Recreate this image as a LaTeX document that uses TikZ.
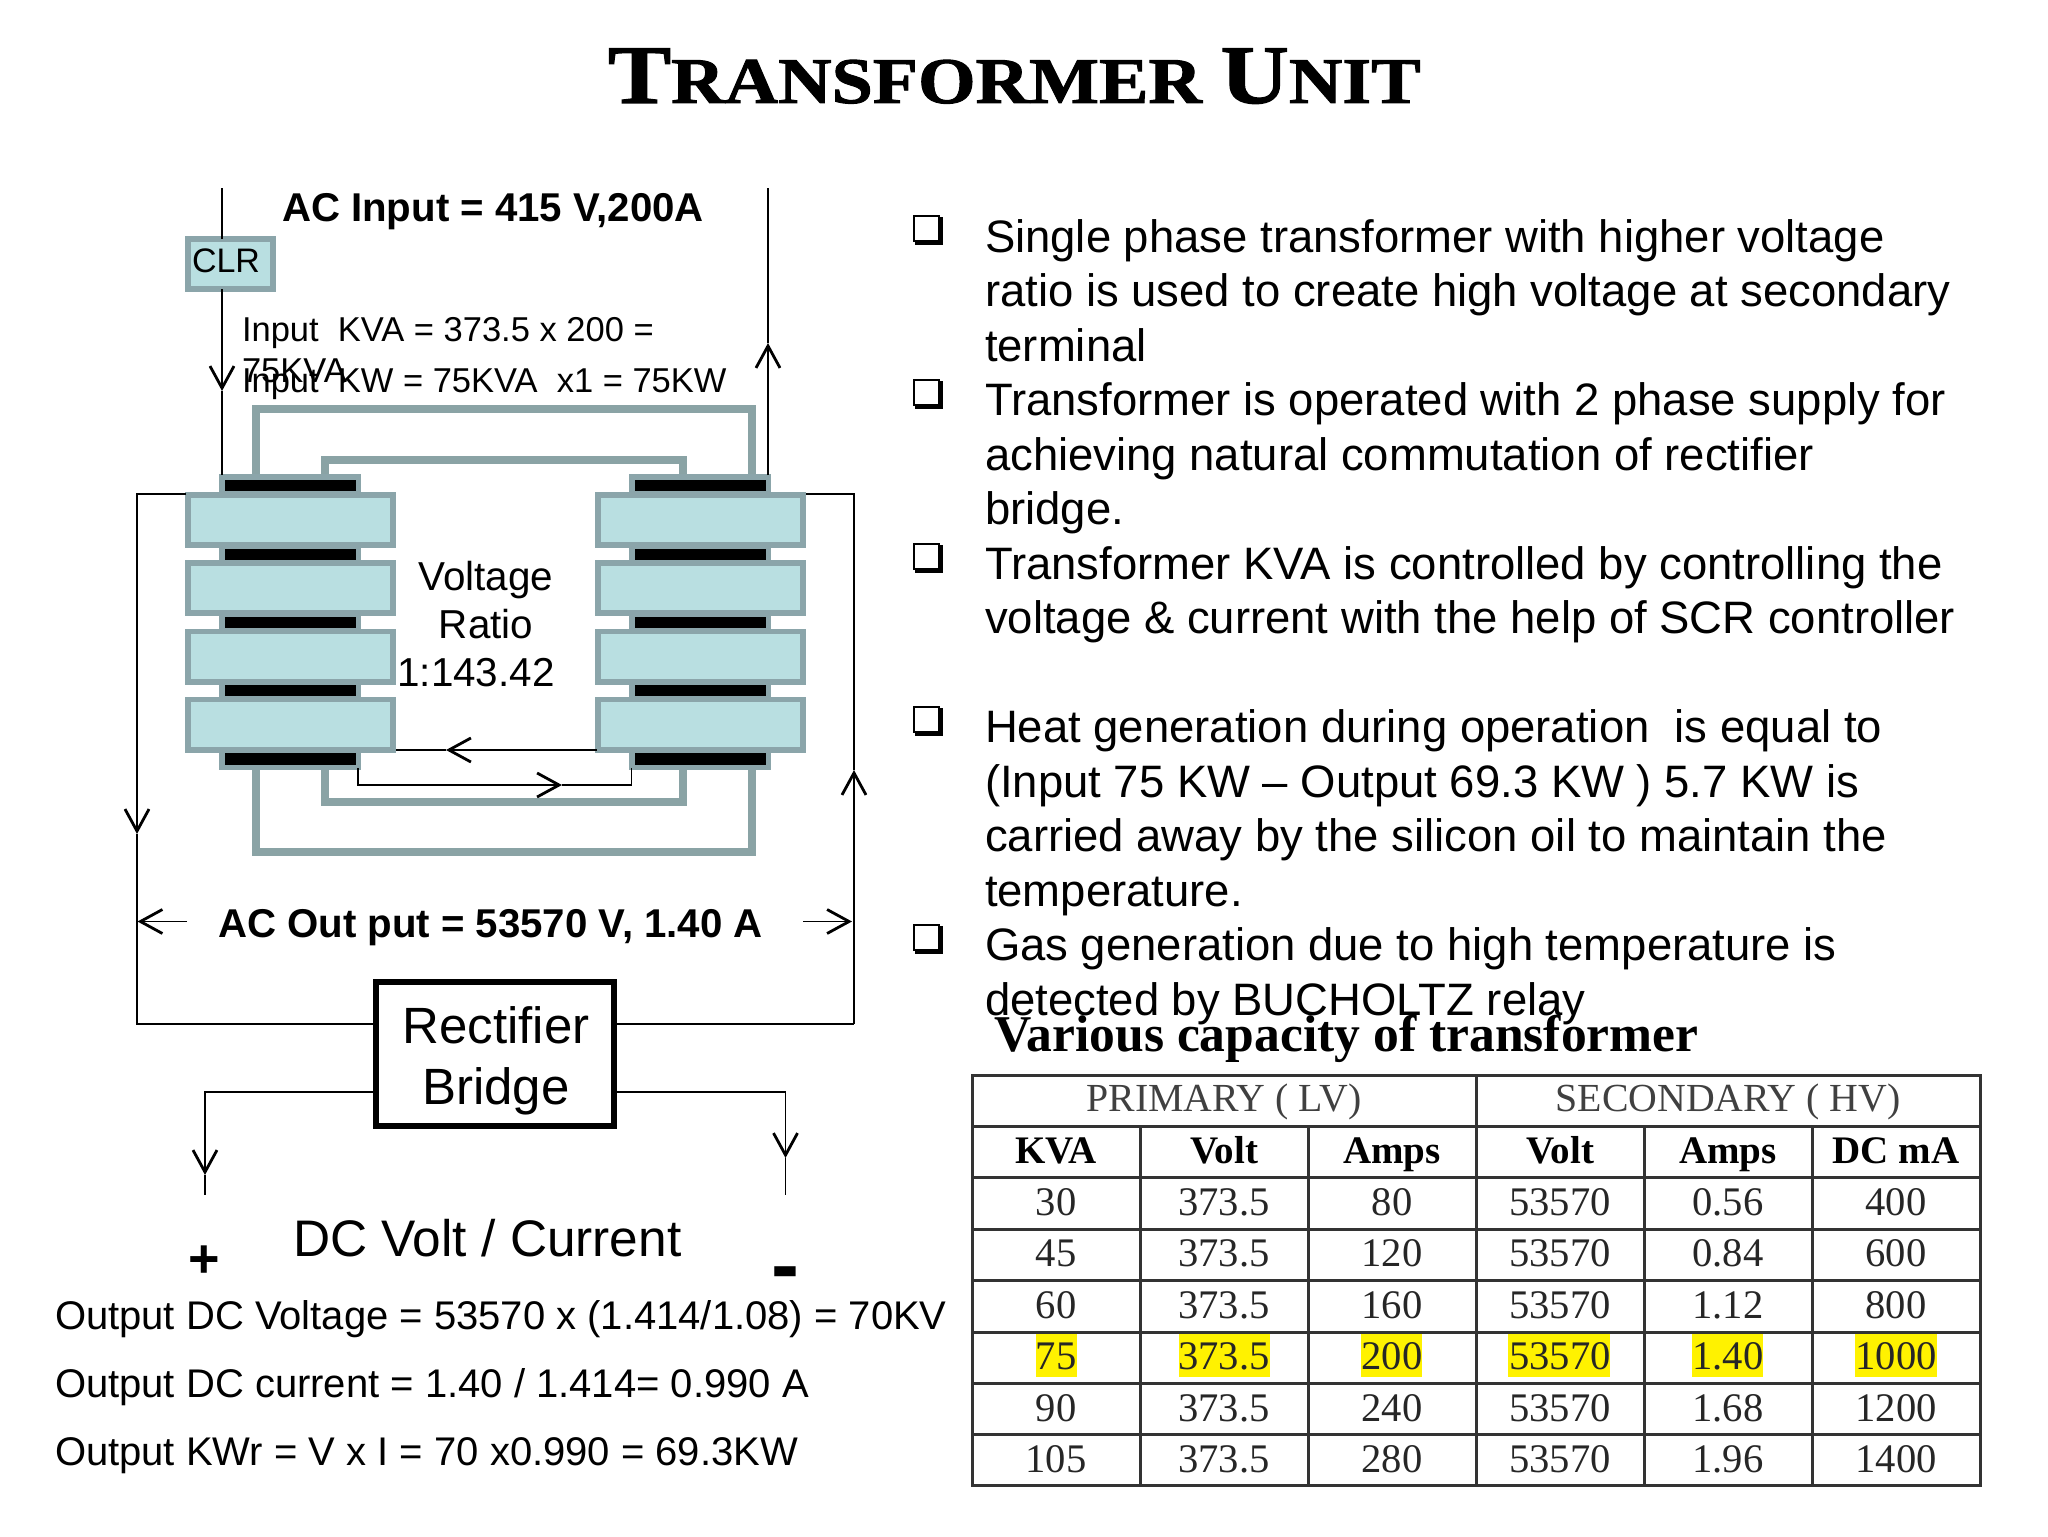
\documentclass[tikz,border=0pt]{standalone}
\usepackage{fontspec}
\usetikzlibrary{arrows.meta,calc}
\setmainfont{Liberation Sans}
\newfontfamily\timesf{Liberation Serif}
\newfontfamily\titlef[FakeStretch=1.136,FakeBold=1.5]{Liberation Serif Bold}
\definecolor{coilfill}{HTML}{B9DFE1}
\definecolor{coilline}{HTML}{8BA5AA}
\definecolor{coreline}{HTML}{8AA3A5}
\newcommand{\fs}[2]{\fontsize{#1}{#2}\selectfont}
\tikzset{
  lbl/.style={inner sep=0pt,outer sep=0pt,anchor=base west},
  lblc/.style={inner sep=0pt,outer sep=0pt,anchor=base},
  coil/.style={draw=coilline,fill=coilfill,line width=2.8pt,minimum width=102.7pt,minimum height=25.2pt,inner sep=0pt,outer sep=0pt},
  coilbar/.style={fill=black,inner sep=0pt,outer sep=0pt,minimum width=65.5pt,minimum height=5.6pt},
  coilback/.style={fill=coilline,inner sep=0pt,outer sep=0pt,minimum width=71pt,minimum height=148pt},
  core/.style={draw=coreline,line width=4pt},
  wire/.style={draw=black,line width=0.9pt},
  barb/.style={draw=black,line width=0.9pt,-{Straight Barb[length=11pt,width=12pt,line width=1.4pt]}},
  thinbarb/.style={draw=black,line width=0.6pt,-{Straight Barb[length=11pt,width=12pt,line width=1.4pt]}},
  para/.style={inner sep=0pt,outer sep=0pt,anchor=base west,align=left,font=\fs{22.73}{27.25}},
  grid/.style={draw=black!80,line width=1.5pt},
  cellt/.style={inner sep=0pt,outer sep=0pt,anchor=base,font=\timesf\fs{20.3}{20},text=black!85},
  cellb/.style={inner sep=0pt,outer sep=0pt,anchor=base,font=\timesf\bfseries\fs{19.5}{20}},
  bulletbox/.style={draw=black,line width=1.2pt,fill=white,minimum size=12.5pt,inner sep=0pt,outer sep=0pt},
  bulletshadow/.style={fill=black,minimum size=14pt,inner sep=0pt,outer sep=0pt},
}
\begin{document}
\begin{tikzpicture}[x=0.5pt,y=-0.5pt]
\useasboundingbox (0,0) rectangle (2048,1536);
% title
\node[lbl] (title) at (608,103) {\titlef\fs{41.7}{44}T\fs{32.6}{44}RANSFORMER \fs{41.7}{44}U\fs{32.6}{44}NIT};
% core
\coordinate (cot1) at (256,476); \coordinate (cot2) at (256,409); \coordinate (cot3) at (752,409); \coordinate (cot4) at (752,476);
\coordinate (cit1) at (324.5,476); \coordinate (cit2) at (324.5,460); \coordinate (cit3) at (683,460); \coordinate (cit4) at (683,476);
\coordinate (cob1) at (256,768); \coordinate (cob2) at (256,852); \coordinate (cob3) at (752,852); \coordinate (cob4) at (752,768);
\coordinate (cib1) at (324.5,768); \coordinate (cib2) at (324.5,801.5); \coordinate (cib3) at (683,801.5); \coordinate (cib4) at (683,768);
\draw[core] (cot1)--(cot2)--(cot3)--(cot4);
\draw[core] (cit1)--(cit2)--(cit3)--(cit4);
\draw[core] (cob1)--(cob2)--(cob3)--(cob4);
\draw[core] (cib1)--(cib2)--(cib3)--(cib4);
% windings
\node[coilback] (backL) at (290.25,622) {};
\node[coilback] (backR) at (700.25,622) {};
\foreach \yy/\n in {485.5/1,554.5/2,622.5/3,690.5/4,759/5}{
  \node[coilbar] (barL\n) at (290.5,\yy) {};
  \node[coilbar] (barR\n) at (700,\yy) {};
}
\foreach \yy/\n in {520/1,588/2,656.5/3,724.5/4}{
  \node[coil] (cL\n) at (290.5,\yy) {};
  \node[coil] (cR\n) at (700.5,\yy) {};
}
% CLR
\node[coil,minimum width=42.7pt,minimum height=25.2pt] (clr) at (230.5,264) {};
\node[lbl,font=\fs{17}{20}] (clrt) at (192,272.5) {CLR};
% input wires
\coordinate (inL) at (222,188); \coordinate (inLa) at (222,391);
\coordinate (inLe) at (222,475);
\coordinate (inR) at (768,188); \coordinate (inRa) at (768,343); \coordinate (inRe) at (768,475);
\draw[wire] (inL)--(clr.north -| inL);
\draw[barb] (clr.south -| inL)--(inLa);
\draw[wire] (inLa)--(inLe);
\draw[wire] (inR)--(inRa);
\draw[barb] (inRe)--(inRa);
% output wires
\node[draw=black,line width=3pt,fill=white,minimum width=119pt,minimum height=72pt,inner sep=0pt,outer sep=0pt] (rect) at (495.25,1053.5) {};
\node[lblc,font=\fs{25.5}{30}] (rect1) at (496,1043) {Rectifier};
\node[lblc,font=\fs{25.5}{30}] (rect2) at (496,1104.5) {Bridge};
\coordinate (oL1) at (137,494); \coordinate (oLa) at (137,834); \coordinate (oL2) at (137,1024);
\coordinate (oR1) at (854,494); \coordinate (oRa) at (854,770); \coordinate (oR2) at (854,1024);
\coordinate (cLtap) at (186,494); \coordinate (cRtap) at (806,494);
\draw[barb] (cLtap)--(oL1)--(oLa);
\draw[wire] (oLa)--(oL2)--(oL2 -| rect.west);
\draw[wire] (cRtap)--(oR1)--(oRa);
\draw[barb] (oR2)--(oRa);
\draw[wire] (oR2)--(oR2 -| rect.east);
% inter-coil links
\coordinate (m1a) at (396,750); \coordinate (m1b) at (597,750); \coordinate (m1t) at (446,750);
\draw[barb] (m1b)--(m1t); \draw[wire] (m1t)--(m1a);
\coordinate (m2a) at (358,768); \coordinate (m2b) at (358,785); \coordinate (m2c) at (631.5,785); \coordinate (m2d) at (631.5,768); \coordinate (m2t) at (562,785);
\draw[barb] (m2a)--(m2b)--(m2t); \draw[wire] (m2t)--(m2c)--(m2d);
% labels
\node[lbl,font=\bfseries\fs{20.1}{22}] (acin) at (282,221.5) {AC Input = 415 V,200A};
\node[lbl,font=\fs{17.25}{20}] (kva1) at (242,341) {Input\ \ KVA = 373.5 x 200 =};
\node[lbl,font=\fs{17.25}{20}] (kva2) at (242,382.5) {75KVA};
\node[lbl,font=\fs{17.25}{20}] (kw) at (242,392) {Input\ \ KW = 75KVA\ \ x1 = 75KW};
\node[lblc,font=\fs{20.2}{22}] (vr1) at (486,590.5) {Voltage};
\node[lblc,font=\fs{20.2}{22}] (vr2) at (486,638) {Ratio};
\node[lblc,font=\fs{20.2}{22}] (vr3) at (476,686) {1:143.42};
\node[lbl,font=\bfseries\fs{20.1}{22}] (acout) at (218,937) {AC Out put = 53570 V, 1.40 A};
\coordinate (al1) at (187,921.5); \coordinate (al2) at (137.5,921.5);
\coordinate (ar1) at (803,921.5); \coordinate (ar2) at (852,921.5);
\draw[thinbarb] (al1)--(al2);
\draw[thinbarb] (ar1)--(ar2);
% DC wires
\coordinate (dL1) at (205,1092); \coordinate (dLa) at (205,1175); \coordinate (dL2) at (205,1195);
\coordinate (dR1) at (785.5,1092); \coordinate (dRa) at (785.5,1158); \coordinate (dR2) at (785.5,1195);
\draw[barb] (rect.west |- dL1)--(dL1)--(dLa); \draw[wire] (dLa)--(dL2);
\draw[barb] (rect.east |- dR1)--(dR1)--(dRa); \draw[wire] (dRa)--(dR2);
\node[lbl,font=\fs{25.7}{30}] (dc) at (293,1256) {DC Volt / Current};
\node[lblc,font=\bfseries\fs{27}{30}] (plus) at (204,1277) {+};
\node[lblc,font=\bfseries\fs{42}{30}] (minus) at (785.5,1293) {-};
\node[lbl,font=\fs{20}{24}] (o1) at (55,1329.5) {Output DC Voltage = 53570 x (1.414/1.08) = 70KV};
\node[lbl,font=\fs{20}{24}] (o2) at (55,1397.5) {Output DC current = 1.40 / 1.414= 0.990 A};
\node[lbl,font=\fs{20}{24}] (o3) at (55,1465) {Output KWr = V x I = 70 x0.990 = 69.3KW};
% bullets
\foreach \yy/\n in {230/1,394/2,558/3,721/4,939/5}{
  \node[bulletshadow] (bs\n) at (929,\yy+1) {};
  \node[bulletbox] (bb\n) at (926.5,\yy-1.5) {};
}
\node[para] (p1) at (985,361) {Single phase transformer with higher voltage\\ratio is used to create high voltage at secondary\\terminal};
\node[para] (p2) at (985,524.5) {Transformer is operated with 2 phase supply for\\achieving natural commutation of rectifier\\bridge.};
\node[para] (p3) at (985,633.5) {Transformer KVA is controlled by controlling the\\voltage \& current with the help of SCR controller};
\node[para] (p4) at (985,906) {Heat generation during operation\ \ is equal to\\(Input 75 KW – Output 69.3 KW ) 5.7 KW is\\carried away by the silicon oil to maintain the\\temperature.};
\node[para] (p5) at (985,1015) {Gas generation due to high temperature is\\detected by BUCHOLTZ relay};
% table
\node[lbl,font=\timesf\bfseries\fs{25.8}{28}] (vc) at (994,1051) {Various capacity of transformer};
\foreach \xa/\xb in {1036/1077,1179/1270,1361/1422,1508/1610,1692/1763,1854.5/1937}{
  \fill[yellow] (\xa,1334) rectangle (\xb,1377);
}
\draw[grid] (972,1075) rectangle (1980,1485);
\foreach \yy in {1126.5,1177,1229,1280,1332,1383,1434.5}{\draw[grid] (972,\yy)--(1980,\yy);}
\draw[grid] (1476,1075)--(1476,1485);
\foreach \xx in {1140,1308,1644,1812}{\draw[grid] (\xx,1126.5)--(\xx,1485);}
\node[lblc,font=\timesf\fs{19.9}{20},text=black!75] (h1) at (1224,1111.5) {PRIMARY ( LV)};
\node[lblc,font=\timesf\fs{19.9}{20},text=black!75] (h2) at (1728,1111.5) {SECONDARY ( HV)};
\foreach \t [count=\i] in {KVA,Volt,Amps,Volt,Amps,DC mA}{
  \node[cellb] (hd\i) at ({972+168*(\i-1)+84},1163) {\t};
}
\foreach \a/\b/\c/\d/\e/\f/\yy/\r in {30/373.5/80/53570/0.56/400/1215/1,45/373.5/120/53570/0.84/600/1266.5/2,60/373.5/160/53570/1.12/800/1318/3,75/373.5/200/53570/1.40/1000/1369.5/4,90/373.5/240/53570/1.68/1200/1421/5,105/373.5/280/53570/1.96/1400/1472/6}{
  \node[cellt] (r\r c1) at (1056,\yy) {\a};
  \node[cellt] (r\r c2) at (1224,\yy) {\b};
  \node[cellt] (r\r c3) at (1392,\yy) {\c};
  \node[cellt] (r\r c4) at (1560,\yy) {\d};
  \node[cellt] (r\r c5) at (1728,\yy) {\e};
  \node[cellt] (r\r c6) at (1896,\yy) {\f};
}
\end{tikzpicture}
\end{document}
